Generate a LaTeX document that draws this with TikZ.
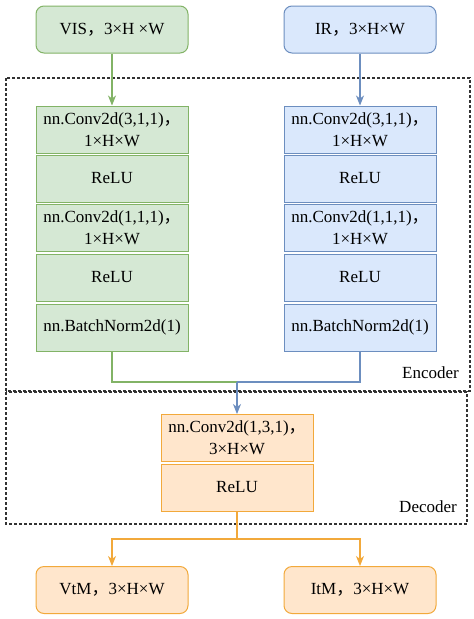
\documentclass[tikz,border=0pt]{standalone}
\usepackage{fontspec}
\setmainfont{Liberation Serif}
\newfontfamily\cjk{Noto Sans CJK SC}
\usetikzlibrary{arrows.meta}
\definecolor{gfill}{HTML}{D5E8D4}
\definecolor{gline}{HTML}{82B366}
\definecolor{bfill}{HTML}{DAE8FC}
\definecolor{bline}{HTML}{6C8EBF}
\definecolor{ofill}{HTML}{FFE6CC}
\definecolor{oline}{HTML}{F2A93B}
\definecolor{dline}{HTML}{333333}
\newcommand{\fc}{{\cjk ，}}
\tikzset{
  blk/.style={draw, line width=1pt, minimum width=152pt, minimum height=47pt,
    inner sep=0pt, align=center, font=\fontsize{17}{22}\selectfont},
  gblk/.style={blk, fill=gfill, draw=gline},
  bblk/.style={blk, fill=bfill, draw=bline},
  oblk/.style={blk, fill=ofill, draw=oline},
  rnd/.style={rounded corners=8pt},
  conn/.style={line width=1.1pt},
  arr/.style={conn, -{Stealth[length=10pt,width=8pt,inset=3pt]}},
  region/.style={draw=dline, line width=1.2pt, dash pattern=on 3pt off 2pt},
  lbl/.style={font=\fontsize{17}{20}\selectfont, anchor=east, inner sep=0pt}
}
\begin{document}
\begin{tikzpicture}[x=1pt,y=-1pt]
\useasboundingbox (0,0) rectangle (474,619);
% regions
\draw[region] (6,78) rectangle (470,391);
\draw[region] (6,392) rectangle (467,524);
\node[lbl] (enc) at (459,373) {Encoder};
\node[lbl] (dec) at (457,507) {Decoder};
% inputs
\node[gblk, rnd] (vis) at (112,29.5) {VIS\fc 3×H ×W};
\node[bblk, rnd] (ir) at (360,29.5) {IR\fc 3×H×W};
% green stack
\node[gblk] (g1) at (112,129.5) {nn.Conv2d(3,1,1)\fc\\1×H×W};
\node[gblk] (g2) at (112,178.5) {ReLU};
\node[gblk] (g3) at (112,228) {nn.Conv2d(1,1,1)\fc\\1×H×W};
\node[gblk] (g4) at (112,277.5) {ReLU};
\node[gblk] (g5) at (112,327.5) {nn.BatchNorm2d(1)};
% blue stack
\node[bblk] (b1) at (360,129.5) {nn.Conv2d(3,1,1)\fc\\1×H×W};
\node[bblk] (b2) at (360,178.5) {ReLU};
\node[bblk] (b3) at (360,228) {nn.Conv2d(1,1,1)\fc\\1×H×W};
\node[bblk] (b4) at (360,277.5) {ReLU};
\node[bblk] (b5) at (360,327.5) {nn.BatchNorm2d(1)};
% decoder
\node[oblk] (d1) at (237,438) {nn.Conv2d(1,3,1)\fc\\3×H×W};
\node[oblk] (d2) at (237,487.5) {ReLU};
% outputs
\node[oblk, rnd] (vtm) at (112,590) {VtM\fc 3×H×W};
\node[oblk, rnd] (itm) at (360,590) {ItM\fc 3×H×W};
% connectors
\coordinate (m) at (237,382);
\coordinate (s) at (237,539);
\draw[arr, gline] (vis) -- (g1);
\draw[arr, bline] (ir) -- (b1);
\draw[conn, gline] (g5.south) |- (m);
\draw[conn, bline] (b5.south) |- (m);
\draw[arr, bline] (m) -- (d1.north);
\draw[conn, oline] (d2.south) -- (s);
\draw[arr, oline] (s) -| (vtm.north);
\draw[arr, oline] (s) -| (itm.north);
\end{tikzpicture}
\end{document}
